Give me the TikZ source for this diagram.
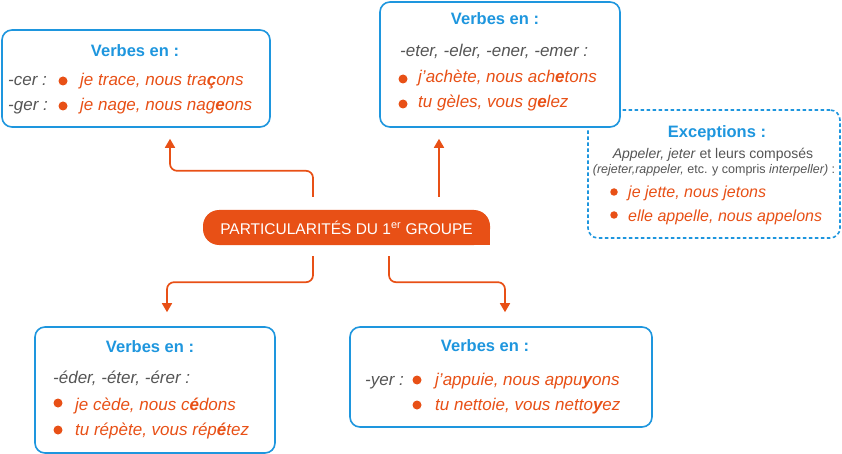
\documentclass[tikz,border=0pt]{standalone}
\usepackage{fontspec}
\setmainfont{Liberation Sans}
\usepackage{tikz}
\usetikzlibrary{arrows.meta, positioning, calc}
\definecolor{framecol}{RGB}{30,150,222}
\definecolor{accentcol}{RGB}{232,80,22}
\definecolor{labelcol}{RGB}{85,85,85}

\tikzset{
  verbbox/.style={draw=framecol, line width=1.6pt, rounded corners=10pt,
                  fill=white, inner sep=0pt},
  excbox/.style={verbbox, dash pattern=on 3.5pt off 2.5pt},
  boxtitle/.style={anchor=base, inner sep=0pt, text=framecol,
                   font=\fontsize{16.5}{18}\selectfont\bfseries},
  ending/.style={anchor=base west, inner sep=0pt, text=labelcol,
                 font=\fontsize{17}{19}\selectfont\itshape},
  example/.style={anchor=base west, inner sep=0pt, text=accentcol,
                  font=\fontsize{17}{19}\selectfont\itshape},
  note/.style={anchor=base, inner sep=0pt, text=labelcol,
               font=\fontsize{14}{16}\selectfont},
  dot/.style={circle, fill=accentcol, inner sep=0pt, minimum size=9pt},
  link/.style={draw=accentcol, line width=1.7pt, rounded corners=7pt,
               -{Triangle[length=9pt, width=10pt]}},
}

\begin{document}
\begin{tikzpicture}[x=1pt, y=-1pt]
  \useasboundingbox (0,0) rectangle (842,454);

  % Centre
  \node[fill=accentcol, rounded corners=16pt, text=white, inner sep=0pt,
        minimum width=287pt, minimum height=35pt,
        font=\fontsize{15.5}{17}\selectfont] (centre) at (346.5,227.5)
    {PARTICULARITÉS DU 1\textsuperscript{er} GROUPE};
  \fill[accentcol] (centre.south east) rectangle ++(-14pt,14pt);

  % Boxes (exceptions first: the box above it overlaps it)
  \node[verbbox, excbox, minimum width=252pt, minimum height=128pt]
    (exc) at (714,174) {};
  \node[verbbox, minimum width=268pt, minimum height=97pt]
    (cer) at (136,78.5) {};
  \node[verbbox, minimum width=240pt, minimum height=125pt]
    (eter) at (500,64.5) {};
  \node[verbbox, minimum width=240pt, minimum height=126pt]
    (eder) at (155,390) {};
  \node[verbbox, minimum width=302pt, minimum height=100pt]
    (yer) at (501,377) {};

  % -cer / -ger
  \node[boxtitle] (cert) at (135,57) {Verbes en :};
  \node[ending] (cerl) at (8,86) {-cer :};
  \node[ending] (gerl) at (8,111) {-ger :};
  \node[dot] (cerd1) at (63,81) {};
  \node[dot] (cerd2) at (63,106) {};
  \node[example] (cere1) at (80,86) {je trace, nous tra\textbf{ç}ons};
  \node[example] (cere2) at (80,111) {je nage, nous nag\textbf{e}ons};

  % -eter, -eler ...
  \node[boxtitle] (etert) at (495,25) {Verbes en :};
  \node[ending] (eterl) at (400,57) {-eter, -eler, -ener, -emer :};
  \node[dot] (eterd1) at (403,79) {};
  \node[dot] (eterd2) at (403,104) {};
  \node[example] (etere1) at (418,83) {j'achète, nous ach\textbf{e}tons};
  \node[example] (etere2) at (418,108) {tu gèles, vous g\textbf{e}lez};

  % Exceptions
  \node[boxtitle] (exct) at (717,138) {Exceptions :};
  \node[note] (excn1) at (713,159) {\textit{Appeler, jeter} et leurs composés};
  \node[note, font=\fontsize{12.5}{14}\selectfont] (excn2) at (714,174)
    {\textit{(rejeter,rappeler,} etc. y compris \textit{interpeller)} :};
  \node[dot, minimum size=7.5pt] (excd1) at (614,192) {};
  \node[dot, minimum size=7.5pt] (excd2) at (614,215) {};
  \node[example, font=\fontsize{16}{18}\selectfont\itshape] (exce1)
    at (628,198) {je jette, nous jetons};
  \node[example, font=\fontsize{16}{18}\selectfont\itshape] (exce2)
    at (628,222) {elle appelle, nous appelons};

  % -éder, -éter, -érer
  \node[boxtitle] (edert) at (150,352) {Verbes en :};
  \node[ending] (ederl) at (53,383) {-éder, -éter, -érer :};
  \node[dot] (ederd1) at (58,403) {};
  \node[dot] (ederd2) at (58,430) {};
  \node[example] (edere1) at (75,410) {je cède, nous c\textbf{é}dons};
  \node[example] (edere2) at (75,435) {tu répète, vous rép\textbf{é}tez};

  % -yer
  \node[boxtitle] (yert) at (485,351) {Verbes en :};
  \node[ending] (yerl) at (365,385) {-yer :};
  \node[dot] (yerd1) at (417,380) {};
  \node[dot] (yerd2) at (417,405) {};
  \node[example] (yere1) at (435,385) {j'appuie, nous appu\textbf{y}ons};
  \node[example] (yere2) at (435,410) {tu nettoie, vous netto\textbf{y}ez};

  % Connectors
  \draw[link] ($(centre.north)+(-33.5,-13)$) |- ($(cer.south)+(34,43)$)
    -- ($(cer.south)+(34,11)$);
  \draw[link] ($(centre.north)+(92.5,-13)$) -- ($(eter.south)+(-61,11)$);
  \draw[link] ($(centre.south)+(-33.5,11)$) |- ($(eder.north)+(12,-44)$)
    -- ($(eder.north)+(12,-14)$);
  \draw[link] ($(centre.south)+(42.5,11)$) |- ($(yer.north)+(4,-44)$)
    -- ($(yer.north)+(4,-14)$);
\end{tikzpicture}
\end{document}
